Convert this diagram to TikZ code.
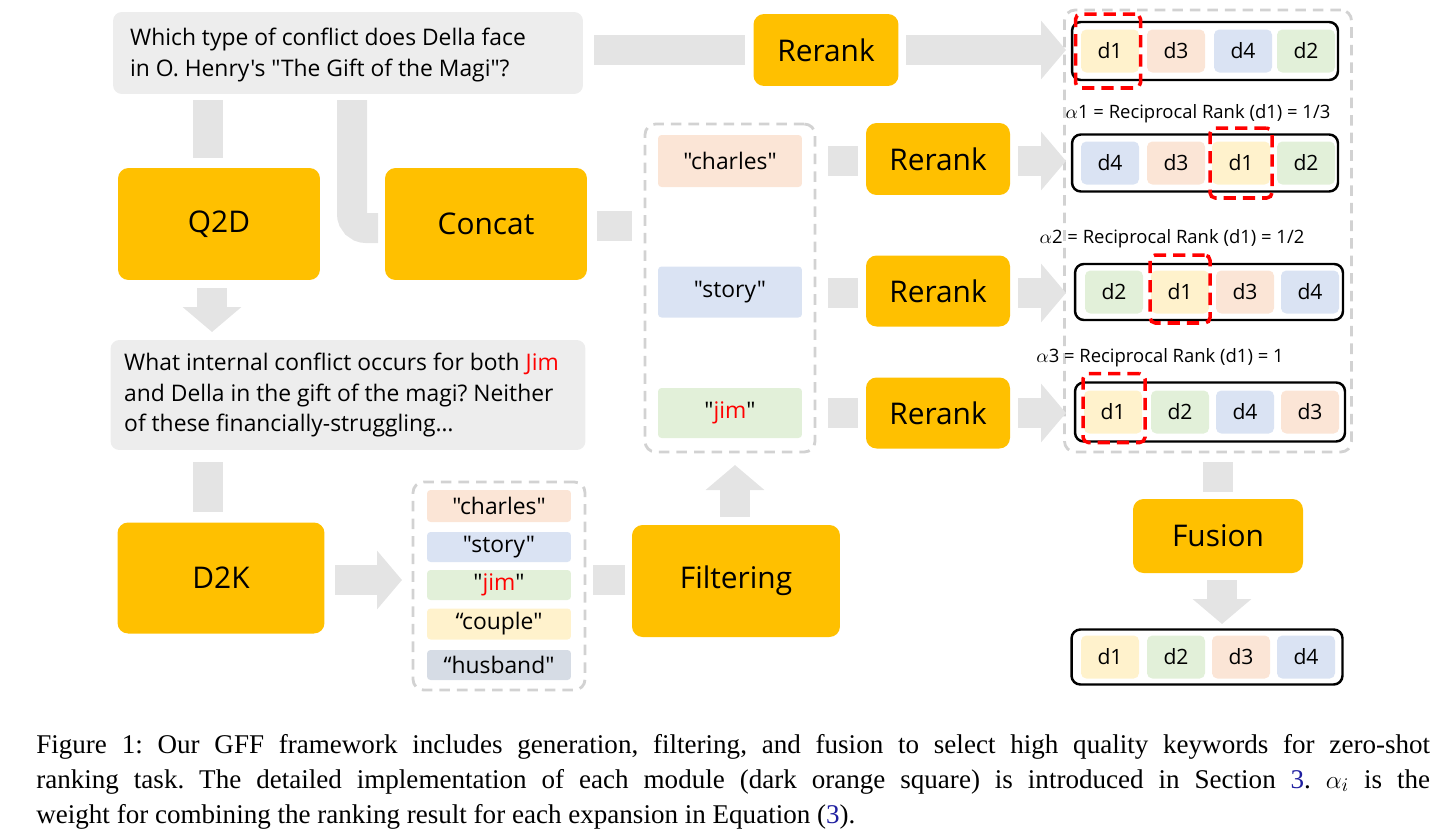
\documentclass[tikz,border=0pt]{standalone}
\usepackage{fontspec}
\setmainfont{Liberation Serif}
\newfontfamily\mysf{Open Sans}
\usetikzlibrary{arrows.meta}
\definecolor{org}{HTML}{FFC000}
\definecolor{gbox}{HTML}{EDEDED}
\definecolor{bar}{HTML}{E4E4E4}
\definecolor{cy}{HTML}{FFF2CC}
\definecolor{cg}{HTML}{E2F0D9}
\definecolor{cp}{HTML}{FBE5D6}
\definecolor{cb}{HTML}{DAE3F3}
\definecolor{cs}{HTML}{D6DCE5}
\definecolor{lnk}{HTML}{1F1FA0}
\begin{document}
\frenchspacing
\begin{tikzpicture}[x=0.02cm,y=-0.02cm,
 mod/.style={fill=org,rounded corners=6pt,font=\mysf\fontsize{17}{20}\selectfont,inner sep=0},
 it/.style={rounded corners=3pt,minimum width=1.16cm,minimum height=0.86cm,inner sep=0,font=\mysf\fontsize{12}{14}\selectfont},
 kw/.style={rounded corners=2pt,inner sep=0,font=\mysf\fontsize{13}{15}\selectfont},
 lst/.style={draw=black,line width=1.4pt,rounded corners=5pt},
 red/.style={draw=red,line width=2pt,dash pattern=on 7pt off 4pt,rounded corners=3pt},
 gd/.style={draw=gray!35,line width=1.6pt,dash pattern=on 6pt off 4pt,rounded corners=6pt},
 br/.style={draw=bar,line width=0.6cm},
 ar/.style={draw=bar,line width=0.6cm,-{Triangle[width=1.15cm,length=0.5cm]}},
 lab/.style={font=\mysf\fontsize{10.5}{12}\selectfont}]
\useasboundingbox (0,0) rectangle (1456,839);
% dashed regions
\node[gd,minimum width=5.74cm,minimum height=8.84cm] (reg) at (1208,231) {};
\node[gd,minimum width=3.4cm,minimum height=6.56cm] (fil) at (730,288) {};
\node[gd,minimum width=3.44cm,minimum height=4.16cm] (kwl) at (499,586) {};
% bars
\draw[br] (208,100) -- (208,158);
\draw[ar] (212,288) -- (212,332);
\draw[br,rounded corners=8pt] (352,100) -- (352,228) -- (378,228);
\draw[br] (597,226) -- (632,226);
\draw[br] (208,462) -- (208,512);
\draw[ar] (335,580) -- (402,580);
\draw[br] (593,580) -- (625,580);
\draw[ar] (735,517) -- (735,465);
\draw[br] (594,50) -- (745,50);
\draw[ar] (906,50) -- (1066,50);
\foreach \y in {161,293,413}{\draw[br] (828,\y) -- (858,\y); \draw[ar] (1018,\y) -- (1066,\y);}
\draw[br] (1218,462) -- (1218,492);
\draw[ar] (1222,580) -- (1222,624);
% boxes
\node[fill=gbox,rounded corners=5pt,minimum width=9.4cm,minimum height=1.64cm] (q1) at (348,53) {};
\node[anchor=west,align=left,font=\mysf\fontsize{13}{18}\selectfont] (q1t) at (124,55) {Which type of conflict does Della face\\in O. Henry's "The Gift of the Magi"?};
\node[fill=gbox,rounded corners=5pt,minimum width=9.5cm,minimum height=2.2cm] (q2) at (348,395) {};
\node[anchor=west,align=left,font=\mysf\fontsize{13}{17.5}\selectfont] (q2t) at (118,395) {What internal conflict occurs for both \textcolor{red}{Jim}\\and Della in the gift of the magi? Neither\\of these financially-struggling\ldots};
\node[mod,minimum width=2.9cm,minimum height=1.44cm] (rr0) at (826,50) {Rerank};
\node[mod,minimum width=4.04cm,minimum height=2.24cm] (q2d) at (219,224) {Q2D};
\node[mod,minimum width=4.04cm,minimum height=2.24cm] (cc) at (486,224) {Concat};
\node[mod,minimum width=4.14cm,minimum height=2.22cm] (d2k) at (221,578) {D2K};
\node[mod,minimum width=4.16cm,minimum height=2.24cm] (flt) at (736,581) {Filtering};
\node[mod,minimum width=3.4cm,minimum height=1.48cm] (fus) at (1218,536) {Fusion};
\node[mod,minimum width=2.88cm,minimum height=1.44cm] (rr1) at (938,159) {Rerank};
\node[mod,minimum width=2.88cm,minimum height=1.42cm] (rr2) at (938,291) {Rerank};
\node[mod,minimum width=2.88cm,minimum height=1.42cm] (rr3) at (938,413) {Rerank};
% keyword lists
\node[kw,fill=cp,minimum width=2.88cm,minimum height=1.04cm] (f1) at (730,161) {"charles"};
\node[kw,fill=cb,minimum width=2.88cm,minimum height=1.02cm] (f2) at (730,292) {"story"};
\node[kw,fill=cg,minimum width=2.88cm,minimum height=1.0cm] (f3) at (730,413) {"\textcolor{red}{jim}"};
\node[kw,fill=cp,minimum width=2.88cm,minimum height=0.64cm] (k1) at (499,506) {"charles"};
\node[kw,fill=cb,minimum width=2.88cm,minimum height=0.6cm] (k2) at (499,547) {"story"};
\node[kw,fill=cg,minimum width=2.88cm,minimum height=0.6cm] (k3) at (499,585) {"\textcolor{red}{jim}"};
\node[kw,fill=cy,minimum width=2.88cm,minimum height=0.62cm] (k4) at (499,624) {“couple"};
\node[kw,fill=cs,minimum width=2.88cm,minimum height=0.6cm] (k5) at (499,665) {“husband"};
% ranked lists
\node[lst,minimum width=5.32cm,minimum height=1.16cm] (l0) at (1205,51) {};
\node[it,fill=cy] (a1) at (1110,51) {d1};\node[it,fill=cp] (a2) at (1176,51) {d3};
\node[it,fill=cb] (a3) at (1243,51) {d4};\node[it,fill=cg] (a4) at (1306,51) {d2};
\node[red,minimum width=1.3cm,minimum height=1.48cm] (r0) at (1108,51) {};
\node[lab] (al1) at (1198,114) {$\alpha$1 = Reciprocal Rank (d1) = 1/3};
\node[lst,minimum width=5.32cm,minimum height=1.14cm] (l1) at (1205,163) {};
\node[it,fill=cb] (b1) at (1110,163) {d4};\node[it,fill=cp] (b2) at (1176,163) {d3};
\node[it,fill=cy] (b3) at (1241,163) {d1};\node[it,fill=cg] (b4) at (1306,163) {d2};
\node[red,minimum width=1.24cm,minimum height=1.4cm] (r1) at (1241,163) {};
\node[lab] (al2) at (1172,239) {$\alpha$2 = Reciprocal Rank (d1) = 1/2};
\node[lst,minimum width=5.36cm,minimum height=1.12cm] (l2) at (1209,292) {};
\node[it,fill=cg] (c1) at (1114,292) {d2};\node[it,fill=cy] (c2) at (1180,292) {d1};
\node[it,fill=cp] (c3) at (1245,292) {d3};\node[it,fill=cb] (c4) at (1310,292) {d4};
\node[red,minimum width=1.2cm,minimum height=1.36cm] (r2) at (1180,289) {};
\node[lab] (al3) at (1160,358) {$\alpha$3 = Reciprocal Rank (d1) = 1};
\node[lst,minimum width=5.4cm,minimum height=1.18cm] (l3) at (1210,412) {};
\node[it,fill=cy] (e1) at (1113,412) {d1};\node[it,fill=cg] (e2) at (1180,412) {d2};
\node[it,fill=cb] (e3) at (1245,412) {d4};\node[it,fill=cp] (e4) at (1310,412) {d3};
\node[red,minimum width=1.24cm,minimum height=1.38cm] (r3) at (1114,408) {};
\node[lst,minimum width=5.42cm,minimum height=1.1cm] (l4) at (1207,657) {};
\node[it,fill=cy] (g1) at (1110,657) {d1};\node[it,fill=cg] (g2) at (1176,657) {d2};
\node[it,fill=cp] (g3) at (1241,657) {d3};\node[it,fill=cb] (g4) at (1306,657) {d4};
% caption
\begin{scope}[every node/.style={anchor=base west,inner sep=0,font=\fontsize{15.4}{17}\selectfont}]
\node (c1l) at (36,753) {\hbox to 27.88cm{Figure 1: Our GFF framework includes generation, filtering, and fusion to select high quality keywords for zero-shot}};
\node (c2l) at (36,788) {\hbox to 27.88cm{ranking task. The detailed implementation of each module (dark orange square) is introduced in Section \textcolor{lnk}{3}. $\alpha_i$ is the}};
\node (c3l) at (36,823) {weight for combining the ranking result for each expansion in Equation (\textcolor{lnk}{3}).};
\end{scope}
\end{tikzpicture}
\end{document}
